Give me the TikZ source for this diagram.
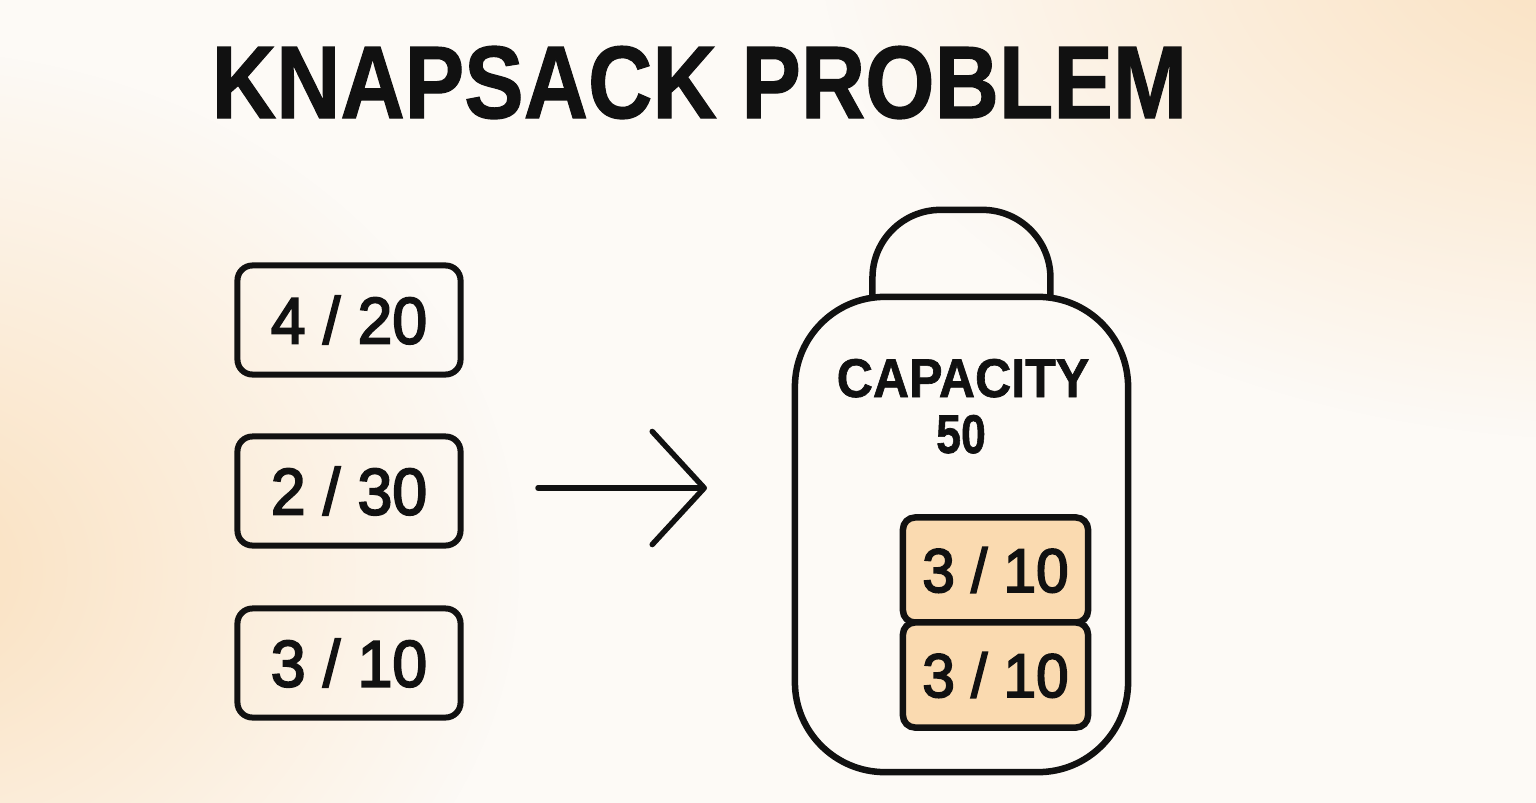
\documentclass[tikz,border=0pt]{standalone}
\usepackage{fontspec}
\setmainfont{Liberation Sans}
\newfontfamily\numfont{Liberation Sans}[FakeBold=3]
\newfontfamily\headfont{Liberation Sans Bold}[FakeBold=1.2]
\usepackage{graphicx}
\usetikzlibrary{arrows.meta,fadings}
\definecolor{bgbase}{RGB}{253,250,246}
\definecolor{peach}{RGB}{250,224,190}
\definecolor{packfill}{RGB}{250,218,176}
\definecolor{ink}{RGB}{17,17,17}
\tikzfading[name=glow, inner color=transparent!0, outer color=transparent!100]
\tikzset{
  itembox/.style={draw=ink, text=ink, line width=0.06cm, rounded corners=0.15cm,
    minimum width=2.23cm, minimum height=1.09cm, inner sep=0pt, outer sep=0pt,
    font=\fontsize{18.7pt}{20pt}\selectfont\numfont},
  packedbox/.style={itembox, fill=packfill, line width=0.065cm, rounded corners=0.12cm,
    minimum width=1.85cm, minimum height=1.05cm,
    font=\fontsize{17.5pt}{19pt}\selectfont\numfont},
  sacktext/.style={anchor=base, text=ink, font=\fontsize{15.5pt}{17pt}\selectfont\headfont},
}
\begin{document}
\begin{tikzpicture}[x=0.01cm,y=-0.01cm]
\useasboundingbox (0,0) rectangle (1536,803);
\begin{scope}
\clip (0,0) rectangle (1536,803);
\fill[bgbase] (0,0) rectangle (1536,803);
\fill[peach, path fading=glow] (-100,570) ellipse (620 and 520);
\fill[peach, path fading=glow] (1620,-60) ellipse (800 and 500);
\end{scope}

\node[anchor=base, text=ink, font=\fontsize{29.3pt}{32pt}\selectfont\headfont] (title) at (699.5,118) {\scalebox{0.865}[1]{KNAPSACK PROBLEM}};

\node[itembox] (item1) at (349,320) {\scalebox{0.95}[1]{4 / 20}};
\node[itembox] (item2) at (349,491) {\scalebox{0.95}[1]{2 / 30}};
\node[itembox] (item3) at (349,663) {\scalebox{0.95}[1]{3 / 10}};

\coordinate (arrowtail) at (538,488);
\coordinate (arrowtip) at (707,488);
\draw[ink, line width=0.055cm, line cap=round, -{Straight Barb[length=0.52cm, width=1.13cm, line join=round, line cap=round]}] (arrowtail) -- (arrowtip);

\node[draw=ink, line width=0.065cm, rounded corners=0.9cm, minimum width=3.33cm, minimum height=4.75cm, outer sep=0pt] (sack) at (961.5,534.5) {};
\draw[ink, line width=0.065cm, rounded corners=0.68cm] ([xshift=-0.89cm]sack.north) -- ++(0,-87) -- ++(178,0) -- ++(0,87);

\node[sacktext] (captext) at (963,397) {\scalebox{0.92}[1]{CAPACITY}};
\node[sacktext] (capval) at (961,453) {\scalebox{0.82}[1]{50}};

\node[packedbox] (packed1) at (995.5,570) {\scalebox{0.95}[1]{3 / 10}};
\node[packedbox] (packed2) at (995.5,675) {\scalebox{0.95}[1]{3 / 10}};
\end{tikzpicture}
\end{document}
